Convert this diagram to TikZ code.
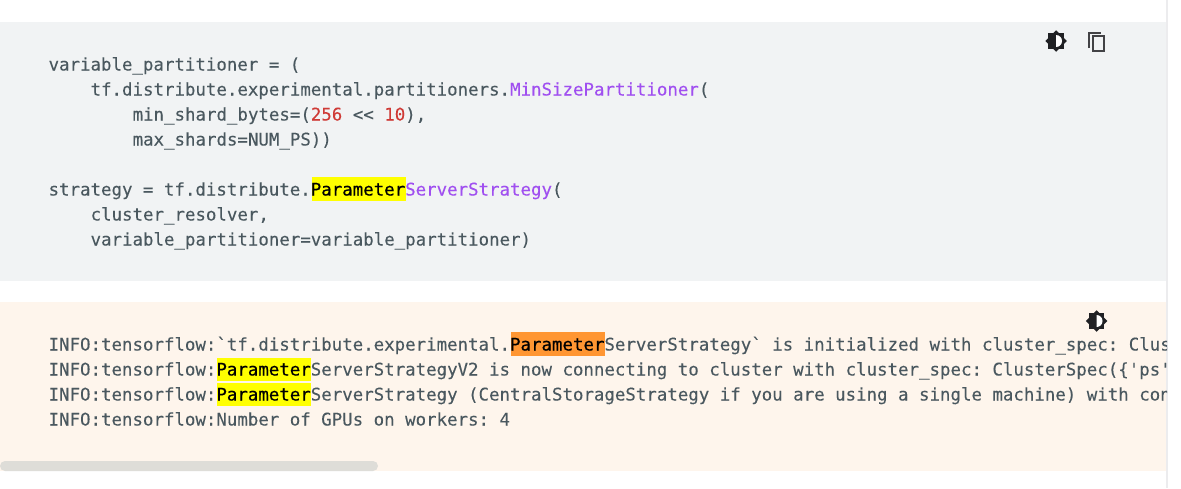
\documentclass[tikz,border=0pt]{standalone}
\usepackage{fontspec}
\newfontfamily\codefont[FakeBold=0.15]{DejaVu Sans Mono}
\newfontfamily\codebold[FakeBold=0.5]{DejaVu Sans Mono}
\definecolor{codetxt}{HTML}{4A585F}
\definecolor{codepurple}{HTML}{A04FF0}
\definecolor{codered}{HTML}{CF3A36}
\definecolor{graybg}{HTML}{F1F3F4}
\definecolor{peachbg}{HTML}{FEF5EC}
\definecolor{thumb}{HTML}{DEDDD8}
\definecolor{edgeline}{HTML}{ECECEE}
\definecolor{hlyellow}{HTML}{FFFF00}
\definecolor{hlorange}{HTML}{FF9632}
\definecolor{iconink}{HTML}{202124}
\newcommand{\kw}[1]{\textcolor{black}{\codebold\fontsize{17.42pt}{25pt}\selectfont #1}}
\newcommand{\pu}[1]{\textcolor{codepurple}{#1}}
\newcommand{\rd}[1]{\textcolor{codered}{#1}}
\tikzset{
  codeline/.style={anchor=base west,inner sep=0pt,outer sep=0pt,text=codetxt,
    font=\codefont\fontsize{17.42pt}{25pt}\selectfont\frenchspacing},
  hl/.style={inner sep=0pt,outer sep=0pt,minimum width=94pt,minimum height=24pt,anchor=north west},
  brighticon/.pic={
    \fill[iconink] (-7.6,-7.6) rectangle (7.6,7.6);
    \fill[iconink,rotate=45] (-7.6,-7.6) rectangle (7.6,7.6);
    \fill[white] (0,-6) arc[start angle=-90,end angle=90,radius=6] -- cycle;
  }
}
\begin{document}
\begin{tikzpicture}[x=1pt,y=-1pt]
\useasboundingbox (0,0) rectangle (1181,488);
\fill[white] (0,0) rectangle (1181,488);
\fill[graybg] (0,22) rectangle (1167,281);
\fill[peachbg] (0,302) rectangle (1167,471);
\fill[edgeline] (1166,0) rectangle (1168,488);
\fill[thumb,rounded corners=5pt] (0,461) rectangle (378,471);
\node[hl,fill=hlyellow] (h1) at (311.5,177) {};
\node[hl,fill=hlorange] (h2) at (511,332) {};
\node[hl,fill=hlyellow,minimum height=23pt] (h3) at (217,358) {};
\node[hl,fill=hlyellow,minimum height=23pt] (h4) at (217,383) {};
\node[codeline] (a1) at (48.6,70.5) {variable\_partitioner = (};
\node[codeline] (a2) at (90.6,95.5) {tf.distribute.experimental.partitioners.\pu{MinSizePartitioner}(};
\node[codeline] (a3) at (132.6,120.5) {min\_shard\_bytes=(\rd{256} << \rd{10}),};
\node[codeline] (a4) at (132.6,145.5) {max\_shards=NUM\_PS))};
\node[codeline] (a5) at (48.6,195.5) {strategy = tf.distribute.\kw{Parameter}\pu{ServerStrategy}(};
\node[codeline] (a6) at (90.6,220.5) {cluster\_resolver,};
\node[codeline] (a7) at (90.6,245.5) {variable\_partitioner=variable\_partitioner)};
\begin{scope}
\clip (0,302) rectangle (1167,471);
\node[codeline] (b1) at (48.6,350.5) {INFO:tensorflow:`tf.distribute.experimental.\kw{Parameter}ServerStrategy` is initialized with cluster\_spec: Clus};
\node[codeline] (b2) at (48.6,375.5) {INFO:tensorflow:\kw{Parameter}ServerStrategyV2 is now connecting to cluster with cluster\_spec: ClusterSpec(\{'ps'};
\node[codeline] (b3) at (48.6,400.5) {INFO:tensorflow:\kw{Parameter}ServerStrategy (CentralStorageStrategy if you are using a single machine) with con};
\node[codeline] (b4) at (48.6,425.5) {INFO:tensorflow:Number of GPUs on workers: 4};
\end{scope}
\pic at (1056,41) {brighticon};
\pic at (1096.5,321) {brighticon};
\draw[iconink!85,line width=2pt] (1088.5,48) -- (1088.5,32.5) -- (1101,32.5);
\draw[iconink!85,line width=2pt] (1092.5,36) rectangle (1104,50.5);
\end{tikzpicture}
\end{document}
